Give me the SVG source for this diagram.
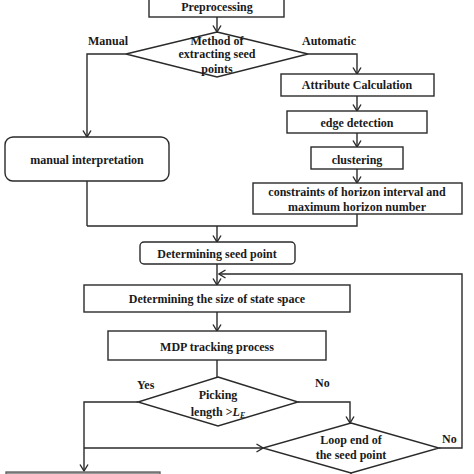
<svg xmlns="http://www.w3.org/2000/svg" width="474" height="474" viewBox="0 0 474 474">
<defs>
<style>
.box{fill:#fff;stroke:#2a2a2a;stroke-width:1.4}
.t{font-family:"Liberation Serif","Times New Roman",serif;font-weight:bold;font-size:12px;fill:#1a1a1a;text-anchor:middle}
.lbl{font-family:"Liberation Serif","Times New Roman",serif;font-weight:bold;font-size:12px;fill:#1a1a1a}
.c{fill:none;stroke:#2a2a2a;stroke-width:1.4}
</style>
<marker id="ah" markerUnits="userSpaceOnUse" viewBox="0 0 8 10" refX="7" refY="5" markerWidth="8" markerHeight="10" orient="auto">
<path d="M0.5,1 L7,5 L0.5,9" fill="none" stroke="#2a2a2a" stroke-width="1.4"/>
</marker>
</defs>
<rect width="474" height="474" fill="#fff"/>
<g id="connectors">
<path class="c" d="M217,17 V32" marker-end="url(#ah)"/>
<path class="c" d="M126,54 H87 V137" marker-end="url(#ah)"/>
<path class="c" d="M308,54 H357 V74" marker-end="url(#ah)"/>
<path class="c" d="M357,96 V111" marker-end="url(#ah)"/>
<path class="c" d="M357,133 V147" marker-end="url(#ah)"/>
<path class="c" d="M357,169 V183" marker-end="url(#ah)"/>
<path class="c" d="M357,214 V226 H87"/>
<path class="c" d="M87,181 V226"/>
<path class="c" d="M217,226 V242" marker-end="url(#ah)"/>
<path class="c" d="M217,264 V285" marker-end="url(#ah)"/>
<path class="c" d="M217,312 V331" marker-end="url(#ah)"/>
<path class="c" d="M217,360 V377"/>
<path class="c" d="M138,402 H84 V471" marker-end="url(#ah)"/>
<path class="c" d="M84,448 H263" marker-end="url(#ah)"/>
<path class="c" d="M298,402 H350 V423" marker-end="url(#ah)"/>
<path class="c" d="M439,448 H462 V274 H219" marker-end="url(#ah)"/>
<path class="c" d="M351,473 V480"/>
<text class="lbl" x="88" y="45">Manual</text>
<text class="lbl" x="302" y="45">Automatic</text>
<text class="lbl" x="137" y="389">Yes</text>
<text class="lbl" x="315" y="387">No</text>
<text class="lbl" x="442" y="443">No</text>
</g>
<g id="preprocessing">
<rect class="box" x="149" y="-5" width="135" height="22"/>
<text class="t" x="217" y="11">Preprocessing</text>
</g>
<g id="method">
<polygon class="box" points="217,32 308,54 217,77 126,54"/>
<text class="t" x="217" y="45">Method of</text>
<text class="t" x="217" y="58">extracting seed</text>
<text class="t" x="217" y="73">points</text>
</g>
<g id="manual">
<rect class="box" x="5" y="137" width="164" height="44" rx="8"/>
<text class="t" x="87" y="164">manual interpretation</text>
</g>
<g id="attribute">
<rect class="box" x="281" y="74" width="153" height="22"/>
<text class="t" x="357" y="89">Attribute Calculation</text>
</g>
<g id="edge">
<rect class="box" x="287" y="111" width="140" height="22"/>
<text class="t" x="357" y="127">edge detection</text>
</g>
<g id="clustering">
<rect class="box" x="311" y="147" width="92" height="22"/>
<text class="t" x="357" y="164">clustering</text>
</g>
<g id="constraints">
<rect class="box" x="253" y="183" width="209" height="31"/>
<text class="t" x="357" y="196">constraints of horizon interval and</text>
<text class="t" x="357" y="211">maximum horizon number</text>
</g>
<g id="seed">
<rect class="box" x="140" y="242" width="155" height="22" rx="4"/>
<text class="t" x="217" y="258">Determining seed point</text>
</g>
<g id="statespace">
<rect class="box" x="84" y="285" width="266" height="27"/>
<text class="t" x="217" y="303">Determining the size of state space</text>
</g>
<g id="mdp">
<rect class="box" x="108" y="331" width="218" height="29"/>
<text class="t" x="217" y="351">MDP tracking process</text>
</g>
<g id="picking">
<polygon class="box" points="218,377 298,402 218,426 138,402"/>
<text class="t" x="218" y="399">Picking</text>
<text class="t" x="218" y="416">length &gt;<tspan font-style="italic">L</tspan><tspan font-style="italic" font-size="8" dy="2">E</tspan></text>
</g>
<g id="loopend">
<polygon class="box" points="351,423 439,448 351,473 263,448"/>
<text class="t" x="351" y="444">Loop end of</text>
<text class="t" x="351" y="459">the seed point</text>
</g>
<g id="bottom">
<rect x="6" y="472" width="154" height="10" fill="#9a9a9a" stroke="#666" stroke-width="1.4"/>
</g>
</svg>
